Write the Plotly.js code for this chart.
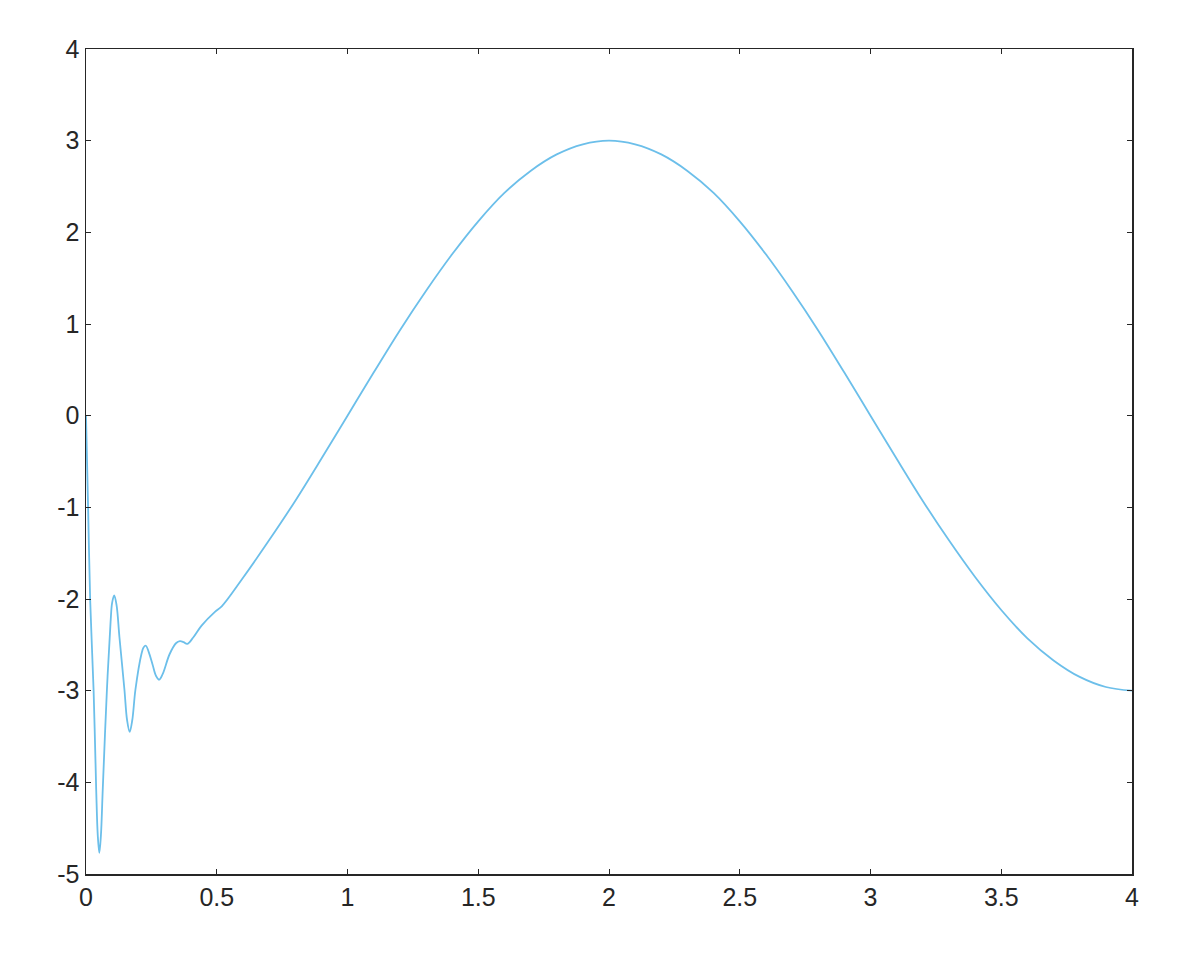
<!DOCTYPE html>
<html>
<head>
<meta charset="utf-8">
<script src="https://cdn.plot.ly/plotly-3.0.1.min.js"></script>
<style>
  html, body { margin: 0; padding: 0; background: #ffffff; }
  #chart { width: 1204px; height: 960px; }
</style>
</head>
<body>
<div id="chart"></div>
<script>
// Values
var xValues = [0, 0.008, 0.016, 0.029, 0.039, 0.045, 0.051, 0.057, 0.064, 0.080, 0.094, 0.100, 0.108, 0.117, 0.128, 0.147, 0.157, 0.167, 0.177, 0.189, 0.212, 0.220, 0.229, 0.240, 0.255, 0.268, 0.280, 0.293, 0.320, 0.345, 0.359, 0.373, 0.387, 0.410, 0.442, 0.493, 0.519, 0.595,
  0.7, 0.8, 0.9, 1.0, 1.1, 1.2, 1.3, 1.4, 1.5, 1.6, 1.7, 1.8, 1.9, 2.0,
  2.1, 2.2, 2.3, 2.4, 2.5, 2.6, 2.7, 2.8, 2.9, 3.0, 3.1, 3.2, 3.3, 3.4, 3.5, 3.6, 3.7, 3.8, 3.9, 4.0];
var yValues = [0, -1.0, -2.01, -2.99, -4.08, -4.58, -4.77, -4.58, -4.08, -2.99, -2.25, -2.04, -1.96, -2.07, -2.42, -2.99, -3.32, -3.45, -3.32, -2.99, -2.60, -2.53, -2.51, -2.58, -2.72, -2.84, -2.88, -2.82, -2.60, -2.48, -2.46, -2.47, -2.49, -2.42, -2.29, -2.14, -2.08, -1.79,
  -1.36, -0.93, -0.47, 0.0, 0.47, 0.93, 1.36, 1.76, 2.12, 2.43, 2.67, 2.85, 2.96, 3.0,
  2.96, 2.85, 2.67, 2.43, 2.12, 1.76, 1.36, 0.93, 0.47, 0.0, -0.47, -0.93, -1.36, -1.76, -2.12, -2.43, -2.67, -2.85, -2.96, -3.0];

var xTickVals = [0, 0.5, 1, 1.5, 2, 2.5, 3, 3.5, 4];
var xTickText = ["0", "0.5", "1", "1.5", "2", "2.5", "3", "3.5", "4"];
var yTickVals = [-5, -4, -3, -2, -1, 0, 1, 2, 3, 4];
var yTickText = ["-5", "-4", "-3", "-2", "-1", "0", "1", "2", "3", "4"];

var trace = {
  x: xValues,
  y: yValues,
  type: 'scatter',
  mode: 'lines',
  line: { color: '#6cbfea', width: 1.8, shape: 'spline', smoothing: 1 },
  hoverinfo: 'x+y'
};

var axisCommon = {
  showgrid: false,
  zeroline: false,
  showline: true,
  mirror: 'ticks',
  linecolor: '#262626',
  linewidth: 1.5,
  ticks: 'inside',
  ticklen: 5,
  tickwidth: 1,
  tickcolor: '#262626',
  tickfont: { family: 'Liberation Sans, Arial, sans-serif', size: 25, color: '#262626' },
  tickmode: 'array'
};

var layout = {
  width: 1204,
  height: 960,
  margin: { l: 86, r: 72, t: 49, b: 86 },
  paper_bgcolor: '#ffffff',
  plot_bgcolor: '#ffffff',
  showlegend: false,
  xaxis: Object.assign({}, axisCommon, {
    range: [0, 4],
    tickvals: xTickVals,
    ticktext: xTickText
  }),
  yaxis: Object.assign({}, axisCommon, {
    range: [-5, 4],
    tickvals: yTickVals,
    ticktext: yTickText
  })
};

Plotly.newPlot('chart', [trace], layout, { displayModeBar: false, staticPlot: true });
</script>
</body>
</html>
